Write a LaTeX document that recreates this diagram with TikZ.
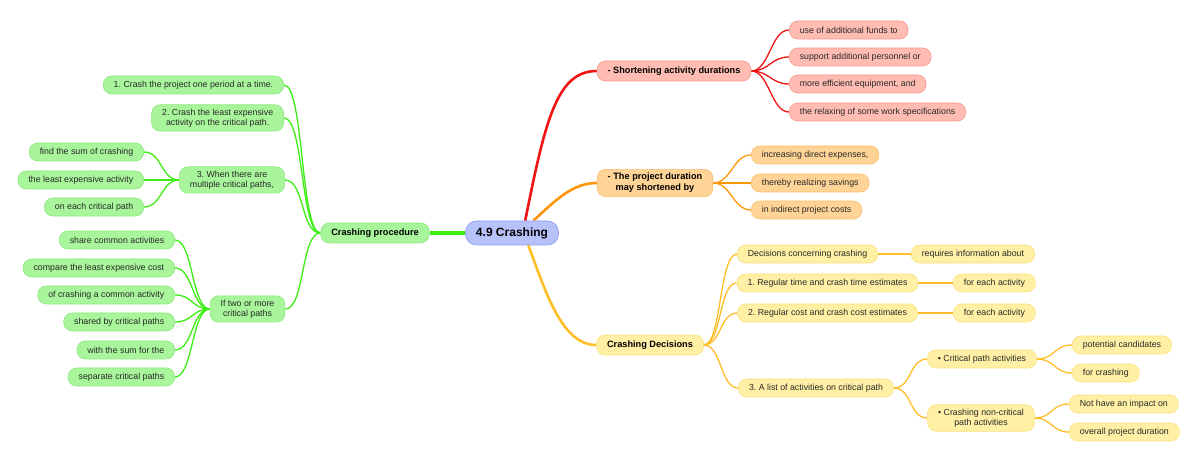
\documentclass[tikz,border=0pt]{standalone}
\usepackage{fontspec}
\setmainfont{Liberation Sans}
\usepackage{tikz}
\usetikzlibrary{calc}
\pgfdeclarelayer{bg}
\pgfsetlayers{bg,main}
\definecolor{rootfill}{RGB}{184, 194, 250}
\definecolor{rootdraw}{RGB}{140, 156, 240}
\definecolor{grnfill}{RGB}{168, 245, 155}
\definecolor{grndraw}{RGB}{140, 232, 125}
\definecolor{grnline}{RGB}{60, 238, 20}
\definecolor{redfill}{RGB}{255, 188, 178}
\definecolor{reddraw}{RGB}{248, 150, 140}
\definecolor{redline}{RGB}{240, 20, 20}
\definecolor{orgfill}{RGB}{255, 212, 150}
\definecolor{orgdraw}{RGB}{250, 190, 110}
\definecolor{orgline}{RGB}{255, 150, 10}
\definecolor{ylwfill}{RGB}{255, 240, 165}
\definecolor{ylwdraw}{RGB}{250, 225, 120}
\definecolor{ylwline}{RGB}{255, 190, 40}
\definecolor{ink}{RGB}{40, 40, 40}

\begin{document}
\frenchspacing
\begin{tikzpicture}[x=1pt, y=-1pt,
  leaf/.style={rounded corners=8.5pt, minimum height=18pt, inner xsep=10.5pt, inner ysep=4pt,
    font=\fontsize{8.8}{10.2}\selectfont, text=ink, align=center, line width=0.6pt},
  head/.style={leaf, font=\bfseries\fontsize{9.2}{10.8}\selectfont, text=black, minimum height=20pt},
  rootbox/.style={leaf, font=\bfseries\fontsize{12}{14}\selectfont, text=black, minimum height=24pt,
    rounded corners=11pt, fill=rootfill, draw=rootdraw},
  gn/.style={fill=grnfill, draw=grndraw},
  rd/.style={fill=redfill, draw=reddraw},
  og/.style={fill=orgfill, draw=orgdraw},
  yl/.style={fill=ylwfill, draw=ylwdraw},
  branch/.style={line width=2.6pt},
  twig/.style={line width=1.3pt}]
  \useasboundingbox (0,0) rectangle (1200,462);

  % Centre
  \node[rootbox] (root) at (512,233) {4.9 Crashing};

  % Crashing procedure
  \node[head, gn] (proc) at (375,233) {Crashing procedure};
  \node[leaf, gn, anchor=east] (p1) at (284,85) {1. Crash the project one period at a time.};
  \node[leaf, gn, anchor=east] (p2) at (284,118) {2. Crash the least expensive\\activity on the critical path.};
  \node[leaf, gn] (p3) at (232,180) {3. When there are\\multiple critical paths,};
  \node[leaf, gn] (p4) at (247.5,309) {If two or more\\critical paths};
  \node[leaf, gn, anchor=east] (q1) at (144,152) {find the sum of crashing};
  \node[leaf, gn, anchor=east] (q2) at (144,180) {the least expensive activity};
  \node[leaf, gn, anchor=east] (q3) at (144,207) {on each critical path};
  \node[leaf, gn, anchor=east] (r1) at (175,240) {share common activities};
  \node[leaf, gn, anchor=east] (r2) at (175,268) {compare the least expensive cost};
  \node[leaf, gn, anchor=east] (r3) at (175,295) {of crashing a common activity};
  \node[leaf, gn, anchor=east] (r4) at (175,322) {shared by critical paths};
  \node[leaf, gn, anchor=east] (r5) at (175,350) {with the sum for the};
  \node[leaf, gn, anchor=east] (r6) at (175,377) {separate critical paths};

  % Shortening activity durations
  \node[head, rd] (shorten) at (674,71) {- Shortening activity durations};
  \node[leaf, rd, anchor=west] (s1) at (789,30) {use of additional funds to};
  \node[leaf, rd, anchor=west] (s2) at (789,57) {support additional personnel or};
  \node[leaf, rd, anchor=west] (s3) at (789,84) {more efficient equipment, and};
  \node[leaf, rd, anchor=west] (s4) at (789,112) {the relaxing of some work specifications};

  % Project duration
  \node[head, og] (durn) at (655,183) {- The project duration\\may shortened by};
  \node[leaf, og, anchor=west] (t1) at (751,155) {increasing direct expenses,};
  \node[leaf, og, anchor=west] (t2) at (751,183) {thereby realizing savings};
  \node[leaf, og, anchor=west] (t3) at (751,210) {in indirect project costs};

  % Crashing decisions
  \node[head, yl] (dec) at (650,345) {Crashing Decisions};
  \node[leaf, yl] (d1) at (807.5,254) {Decisions concerning crashing};
  \node[leaf, yl] (d2) at (827.5,283) {1. Regular time and crash time estimates};
  \node[leaf, yl] (d3) at (827.5,313) {2. Regular cost and crash cost estimates};
  \node[leaf, yl] (d4) at (816,388) {3. A list of activities on critical path};
  \node[leaf, yl, anchor=west] (d1a) at (911,254) {requires information about};
  \node[leaf, yl, anchor=west] (d2a) at (953,283) {for each activity};
  \node[leaf, yl, anchor=west] (d3a) at (953,313) {for each activity};
  \node[leaf, yl] (e1) at (982,359) {\textbullet\ Critical path activities};
  \node[leaf, yl] (e2) at (981,418) {\textbullet\ Crashing non-critical\\path activities};
  \node[leaf, yl, anchor=west] (e1a) at (1072,345) {potential candidates};
  \node[leaf, yl, anchor=west] (e1b) at (1072,373) {for crashing};
  \node[leaf, yl, anchor=west] (e2a) at (1069,404) {Not have an impact on};
  \node[leaf, yl, anchor=west] (e2b) at (1069,432) {overall project duration};

  % Connectors
  \begin{pgfonlayer}{bg}
    \draw[grnline, line width=3.2pt] (root) -- (proc);
    \draw[branch, redline] (root.43) .. controls +(20,-100) and +(-40,0) .. (shorten.west);
    \draw[branch, orgline] (root.30) .. controls +(22,-20) and +(-25,0) .. (durn.west);
    \draw[branch, ylwline] (root.-37) .. controls +(17,45) and +(-35,0) .. (dec.west);

    \foreach \c in {p1,p2,p3,p4}
      \draw[twig, grnline] (proc.west) .. controls +(-20,0) and +(20,0) .. (\c.east);
    \foreach \c in {q1,q2,q3}
      \draw[twig, grnline] (p3.west) .. controls +(-18,0) and +(18,0) .. (\c.east);
    \foreach \c in {r1,r2,r3,r4,r5,r6}
      \draw[twig, grnline] (p4.west) .. controls +(-18,0) and +(18,0) .. (\c.east);

    \foreach \c in {s1,s2,s3,s4}
      \draw[twig, redline] (shorten.east) .. controls +(18,0) and +(-18,0) .. (\c.west);
    \foreach \c in {t1,t2,t3}
      \draw[twig, orgline] (durn.east) .. controls +(18,0) and +(-18,0) .. (\c.west);
    \foreach \c in {d1,d2,d3,d4}
      \draw[twig, ylwline] (dec.east) .. controls +(18,0) and +(-18,0) .. (\c.west);
    \draw[twig, ylwline] (d1) -- (d1a);
    \draw[twig, ylwline] (d2) -- (d2a);
    \draw[twig, ylwline] (d3) -- (d3a);
    \foreach \c in {e1,e2}
      \draw[twig, ylwline] (d4.east) .. controls +(18,0) and +(-18,0) .. (\c.west);
    \foreach \c in {e1a,e1b}
      \draw[twig, ylwline] (e1.east) .. controls +(18,0) and +(-18,0) .. (\c.west);
    \foreach \c in {e2a,e2b}
      \draw[twig, ylwline] (e2.east) .. controls +(18,0) and +(-18,0) .. (\c.west);
  \end{pgfonlayer}
\end{tikzpicture}
\end{document}
